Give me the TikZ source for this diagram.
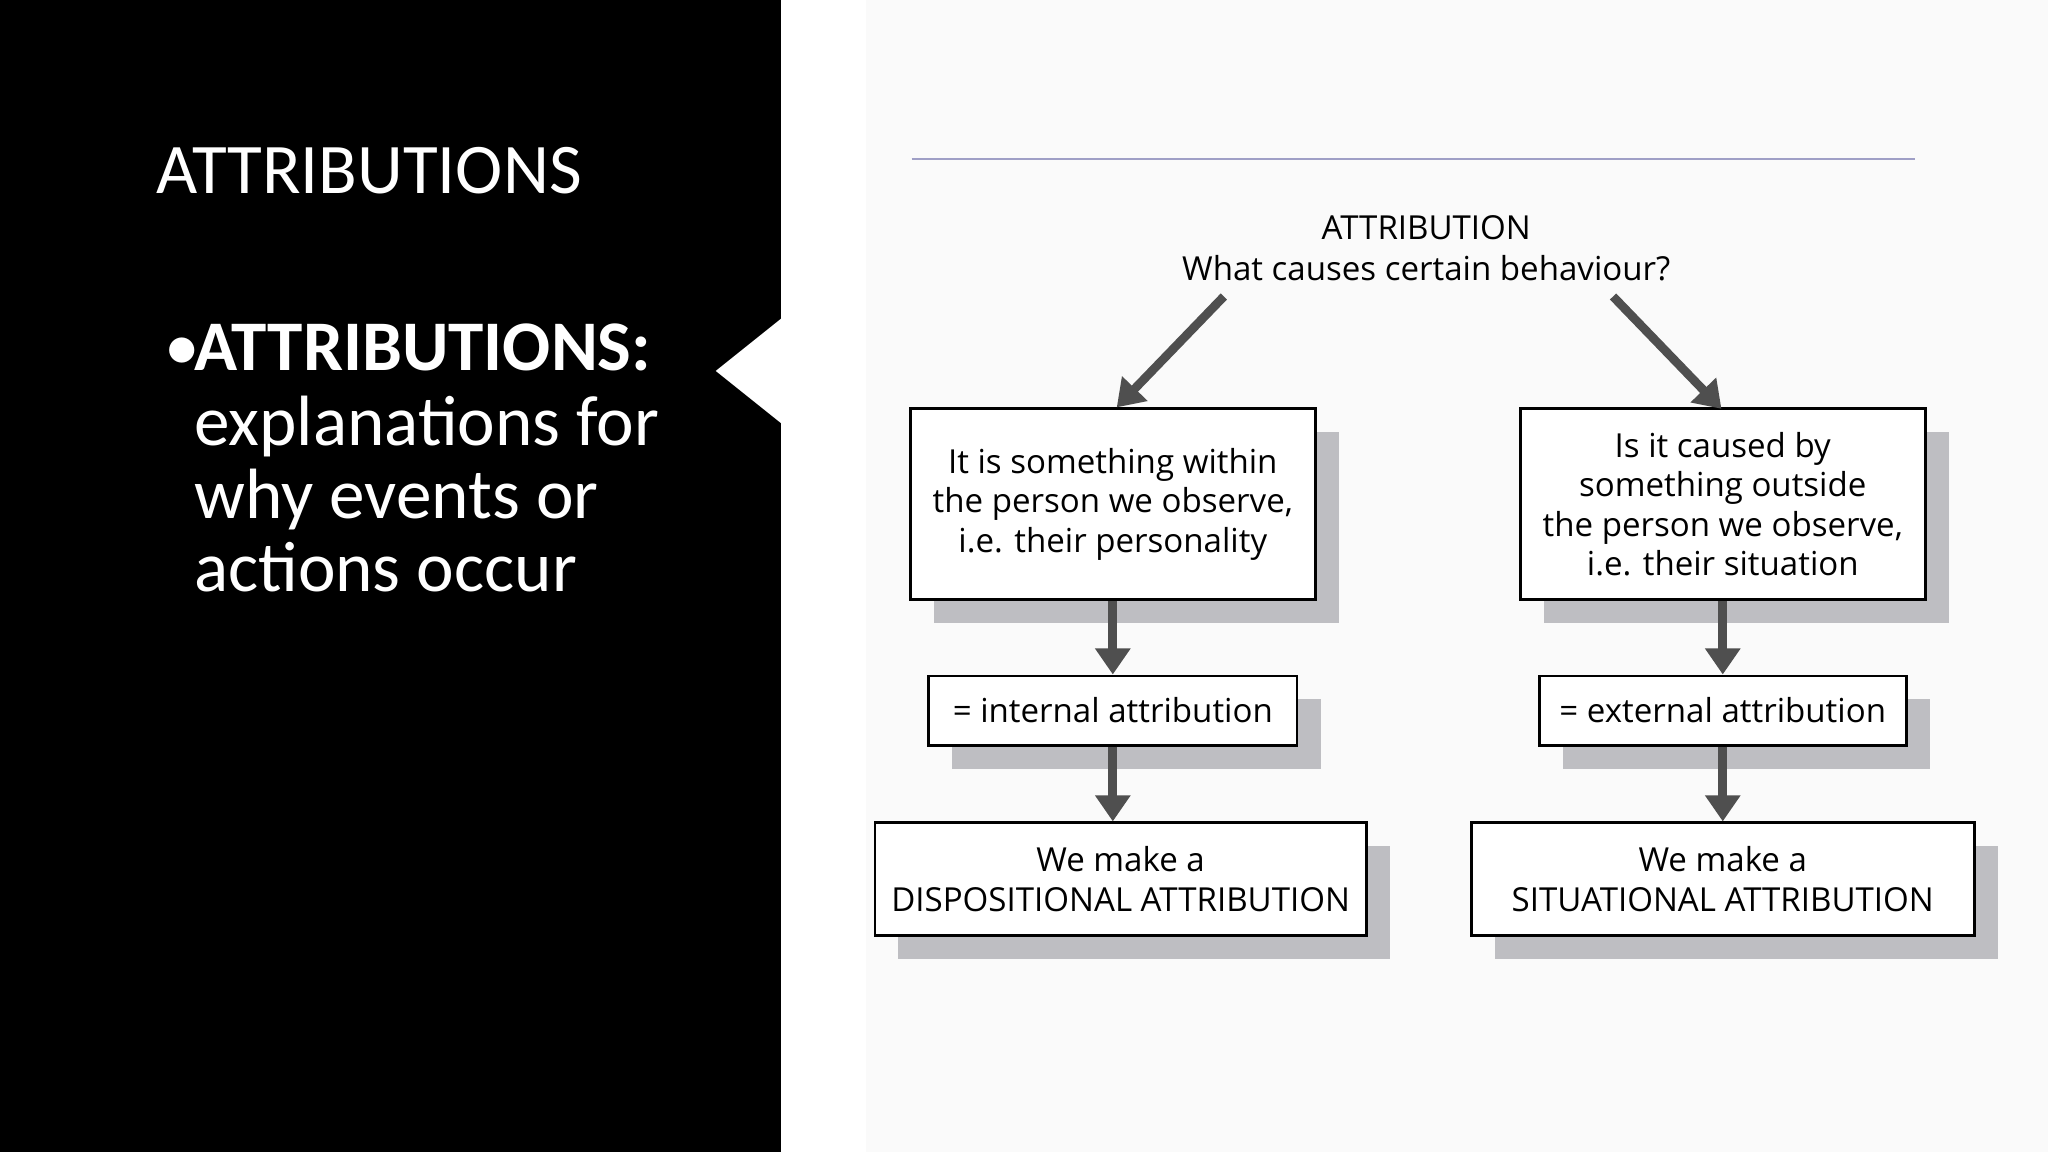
\documentclass[tikz,border=0pt]{standalone}
\usepackage{fontspec}
\setmainfont{Carlito}
\newfontfamily\diafont{Open Sans}
\usetikzlibrary{shadows,arrows.meta}
\definecolor{shgray}{HTML}{BEBEC2}
\definecolor{arrgray}{HTML}{4F4F4F}
\tikzset{
 bx/.style={draw=black,line width=0.6pt,fill=white,inner sep=0pt,align=center,font=\diafont\fontsize{7.2}{8.6}\selectfont,
   drop shadow={shadow xshift=0.18cm,shadow yshift=-0.18cm,fill=shgray,opacity=1}},
 arr/.style={draw=arrgray,line width=1.9pt,-{Triangle[length=0.2cm,width=0.26cm]}},
 slide/.style={text=white,anchor=base west,inner sep=0pt}
}
\begin{document}
\begin{tikzpicture}[x=0.01cm,y=-0.01cm]
\useasboundingbox (0,0) rectangle (1568,882);
\fill[white] (0,0) rectangle (1568,882);
\fill[black] (0,0) rectangle (598,882);
\fill[white] (598,244) -- (548,284) -- (598,324) -- cycle;
\fill[black!2] (663,0) rectangle (1568,882);
\draw[blue!25!gray!60,line width=0.5pt] (698,122) -- (1466,122);
\node[slide,font=\fontsize{15.5}{16}\selectfont] (t) at (119,148) {ATTRIBUTIONS};
\node[slide,font=\fontsize{15.5}{16}\selectfont] (b) at (125,284) {•};
\node[slide,font=\fontsize{15.5}{16}\selectfont] (b1) at (148,284) {\textbf{ATTRIBUTIONS:}};
\node[slide,font=\fontsize{15.5}{16}\selectfont] (b2) at (148,341) {explanations for};
\node[slide,font=\fontsize{15.5}{16}\selectfont] (b3) at (148,397) {why events or};
\node[slide,font=\fontsize{15.5}{16}\selectfont] (b4) at (148,453) {actions occur};
\node[align=center,inner sep=0pt,font=\diafont\fontsize{7.2}{8.8}\selectfont] (top) at (1092,190) {ATTRIBUTION\\What causes certain behaviour?};
\node[bx,minimum width=3.1cm,minimum height=1.46cm] (l1) at (852,386) {It is something within\\the person we observe,\\i.e. their personality};
\node[bx,minimum width=3.1cm,minimum height=1.46cm] (r1) at (1319,386) {Is it caused by\\something outside\\the person we observe,\\i.e. their situation};
\node[bx,minimum width=2.82cm,minimum height=0.53cm] (l2) at (852,544) {= internal attribution};
\node[bx,minimum width=2.81cm,minimum height=0.53cm] (r2) at (1319,544) {= external attribution};
\node[bx,minimum width=3.76cm,minimum height=0.86cm] (l3) at (858,673) {We make a\\DISPOSITIONAL ATTRIBUTION};
\node[bx,minimum width=3.85cm,minimum height=0.86cm] (r3) at (1319,673) {We make a\\SITUATIONAL ATTRIBUTION};
\coordinate (a1) at (937,227); \coordinate (a2) at (1235,227);
\draw[arr] (a1) -- (l1.north west -| 855,313);
\draw[arr] (a2) -- (1318,313);
\draw[arr] (l1.south) -- (l2.north);
\draw[arr] (r1.south) -- (r2.north);
\draw[arr] (l2.south) -- (l2.south |- l3.north);
\draw[arr] (r2.south) -- (r3.north);
\end{tikzpicture}
\end{document}
